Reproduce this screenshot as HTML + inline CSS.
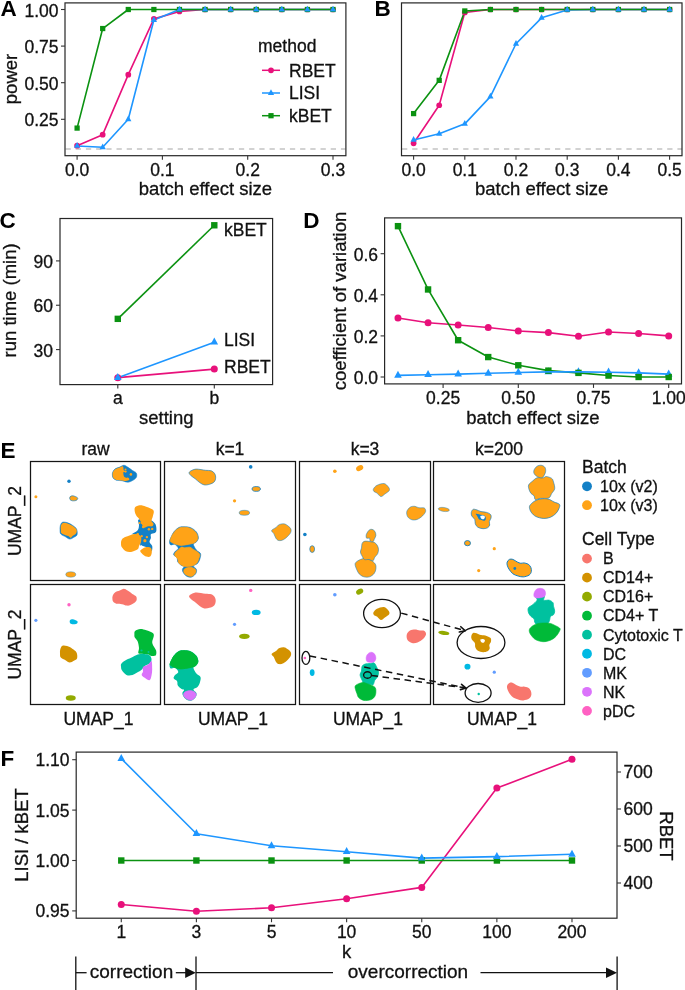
<!DOCTYPE html>
<html><head><meta charset="utf-8"><style>
html,body{margin:0;padding:0;background:#fff;}
svg{display:block;will-change:transform;}
text{font-family:"Liberation Sans", sans-serif;}
</style></head><body>
<svg width="685" height="990" viewBox="0 0 685 990">
<rect width="685" height="990" fill="#fff"/>
<line x1="65.5" y1="149" x2="345.5" y2="149" stroke="#C4C4C4" stroke-width="1.7" stroke-dasharray="5.3 4.9"/>
<polyline points="77.1,145.65 102.69,134.67 128.28,74.65 153.87,18.87 179.46,11.4 205.05,9.5 230.64,9.5 256.23,9.5 281.82,9.5 307.41,9.5 333,9.5" fill="none" stroke="#E8117B" stroke-width="1.6" stroke-linejoin="round"/>
<polyline points="77.1,145.94 102.69,147.26 128.28,119.3 153.87,20.04 179.46,9.5 205.05,9.5 230.64,9.5 256.23,9.5 281.82,9.5 307.41,9.5 333,9.5" fill="none" stroke="#1E96FF" stroke-width="1.6" stroke-linejoin="round"/>
<polyline points="77.1,128.08 102.69,28.53 128.28,9.5 153.87,9.5 179.46,9.5 205.05,9.5 230.64,9.5 256.23,9.5 281.82,9.5 307.41,9.5 333,9.5" fill="none" stroke="#0B9211" stroke-width="1.6" stroke-linejoin="round"/>
<circle cx="77.1" cy="145.65" r="2.87" fill="#E8117B"/>
<circle cx="102.69" cy="134.67" r="2.87" fill="#E8117B"/>
<circle cx="128.28" cy="74.65" r="2.87" fill="#E8117B"/>
<circle cx="153.87" cy="18.87" r="2.87" fill="#E8117B"/>
<circle cx="179.46" cy="11.4" r="2.87" fill="#E8117B"/>
<circle cx="205.05" cy="9.5" r="2.87" fill="#E8117B"/>
<circle cx="230.64" cy="9.5" r="2.87" fill="#E8117B"/>
<circle cx="256.23" cy="9.5" r="2.87" fill="#E8117B"/>
<circle cx="281.82" cy="9.5" r="2.87" fill="#E8117B"/>
<circle cx="307.41" cy="9.5" r="2.87" fill="#E8117B"/>
<circle cx="333" cy="9.5" r="2.87" fill="#E8117B"/>
<rect x="74.48" y="125.46" width="5.25" height="5.25" fill="#0B9211"/>
<rect x="100.07" y="25.91" width="5.25" height="5.25" fill="#0B9211"/>
<rect x="125.66" y="6.88" width="5.25" height="5.25" fill="#0B9211"/>
<rect x="151.25" y="6.88" width="5.25" height="5.25" fill="#0B9211"/>
<rect x="176.84" y="6.88" width="5.25" height="5.25" fill="#0B9211"/>
<rect x="202.43" y="6.88" width="5.25" height="5.25" fill="#0B9211"/>
<rect x="228.02" y="6.88" width="5.25" height="5.25" fill="#0B9211"/>
<rect x="253.61" y="6.88" width="5.25" height="5.25" fill="#0B9211"/>
<rect x="279.2" y="6.88" width="5.25" height="5.25" fill="#0B9211"/>
<rect x="304.79" y="6.88" width="5.25" height="5.25" fill="#0B9211"/>
<rect x="330.38" y="6.88" width="5.25" height="5.25" fill="#0B9211"/>
<polygon points="77.1,142.12 80.22,147.86 73.98,147.86" fill="#1E96FF"/>
<polygon points="102.69,143.43 105.81,149.17 99.57,149.17" fill="#1E96FF"/>
<polygon points="128.28,115.47 131.4,121.21 125.16,121.21" fill="#1E96FF"/>
<polygon points="153.87,16.21 156.99,21.95 150.75,21.95" fill="#1E96FF"/>
<polygon points="179.46,5.67 182.58,11.41 176.34,11.41" fill="#1E96FF"/>
<polygon points="205.05,5.67 208.17,11.41 201.93,11.41" fill="#1E96FF"/>
<polygon points="230.64,5.67 233.76,11.41 227.52,11.41" fill="#1E96FF"/>
<polygon points="256.23,5.67 259.35,11.41 253.11,11.41" fill="#1E96FF"/>
<polygon points="281.82,5.67 284.94,11.41 278.7,11.41" fill="#1E96FF"/>
<polygon points="307.41,5.67 310.53,11.41 304.29,11.41" fill="#1E96FF"/>
<polygon points="333,5.67 336.12,11.41 329.88,11.41" fill="#1E96FF"/>
<rect x="65" y="2.9" width="280.9" height="152.8" fill="none" stroke="#262626" stroke-width="1.2"/>
<line x1="61" y1="119.3" x2="65" y2="119.3" stroke="#333333" stroke-width="1.1" />
<text x="58.5" y="126.3" font-size="17.5" text-anchor="end" fill="#111111" stroke="#111111" stroke-width="0.3" font-weight="normal" >0.25</text>
<line x1="61" y1="82.7" x2="65" y2="82.7" stroke="#333333" stroke-width="1.1" />
<text x="58.5" y="89.7" font-size="17.5" text-anchor="end" fill="#111111" stroke="#111111" stroke-width="0.3" font-weight="normal" >0.50</text>
<line x1="61" y1="46.1" x2="65" y2="46.1" stroke="#333333" stroke-width="1.1" />
<text x="58.5" y="53.1" font-size="17.5" text-anchor="end" fill="#111111" stroke="#111111" stroke-width="0.3" font-weight="normal" >0.75</text>
<line x1="61" y1="9.5" x2="65" y2="9.5" stroke="#333333" stroke-width="1.1" />
<text x="58.5" y="16.5" font-size="17.5" text-anchor="end" fill="#111111" stroke="#111111" stroke-width="0.3" font-weight="normal" >1.00</text>
<line x1="77.1" y1="155.7" x2="77.1" y2="159.7" stroke="#333333" stroke-width="1.1" />
<text x="77.1" y="176" font-size="17.5" text-anchor="middle" fill="#111111" stroke="#111111" stroke-width="0.3" font-weight="normal" >0.0</text>
<line x1="162.4" y1="155.7" x2="162.4" y2="159.7" stroke="#333333" stroke-width="1.1" />
<text x="162.4" y="176" font-size="17.5" text-anchor="middle" fill="#111111" stroke="#111111" stroke-width="0.3" font-weight="normal" >0.1</text>
<line x1="247.7" y1="155.7" x2="247.7" y2="159.7" stroke="#333333" stroke-width="1.1" />
<text x="247.7" y="176" font-size="17.5" text-anchor="middle" fill="#111111" stroke="#111111" stroke-width="0.3" font-weight="normal" >0.2</text>
<line x1="333" y1="155.7" x2="333" y2="159.7" stroke="#333333" stroke-width="1.1" />
<text x="333" y="176" font-size="17.5" text-anchor="middle" fill="#111111" stroke="#111111" stroke-width="0.3" font-weight="normal" >0.3</text>
<text x="205.5" y="195" font-size="18.5" text-anchor="middle" fill="#111111" stroke="#111111" stroke-width="0.3" font-weight="normal" >batch effect size</text>
<text x="17" y="79" font-size="18.5" text-anchor="middle" fill="#111111" stroke="#111111" stroke-width="0.3" font-weight="normal" transform="rotate(-90 17 79)" >power</text>
<text transform="translate(0.5,15.8) scale(1.0,1)" font-size="22.5" font-weight="bold" fill="#000">A</text>
<text x="258" y="51.6" font-size="17.5" text-anchor="start" fill="#111111" stroke="#111111" stroke-width="0.3" font-weight="normal" >method</text>
<line x1="262" y1="70.3" x2="280" y2="70.3" stroke="#E8117B" stroke-width="1.5" />
<circle cx="271" cy="70.3" r="2.87" fill="#E8117B"/>
<text x="289" y="76.5" font-size="17.5" text-anchor="start" fill="#111111" stroke="#111111" stroke-width="0.3" font-weight="normal" >RBET</text>
<line x1="262" y1="93" x2="280" y2="93" stroke="#1E96FF" stroke-width="1.5" />
<polygon points="271,89.17 274.12,94.91 267.88,94.91" fill="#1E96FF"/>
<text x="289" y="99.2" font-size="17.5" text-anchor="start" fill="#111111" stroke="#111111" stroke-width="0.3" font-weight="normal" >LISI</text>
<line x1="262" y1="115.7" x2="280" y2="115.7" stroke="#0B9211" stroke-width="1.5" />
<rect x="268.38" y="113.08" width="5.25" height="5.25" fill="#0B9211"/>
<text x="289" y="121.9" font-size="17.5" text-anchor="start" fill="#111111" stroke="#111111" stroke-width="0.3" font-weight="normal" >kBET</text>
<line x1="402" y1="149" x2="682" y2="149" stroke="#C4C4C4" stroke-width="1.7" stroke-dasharray="5.3 4.9"/>
<polyline points="413.6,143.31 439.2,105.25 464.8,12.43 490.4,9.5 516,9.5 541.6,9.5 567.2,9.5 592.8,9.5 618.4,9.5 644,9.5 669.6,9.5" fill="none" stroke="#E8117B" stroke-width="1.6" stroke-linejoin="round"/>
<polyline points="413.6,139.94 439.2,133.79 464.8,123.84 490.4,96.61 516,43.76 541.6,17.84 567.2,9.94 592.8,9.5 618.4,9.5 644,9.5 669.6,9.5" fill="none" stroke="#1E96FF" stroke-width="1.6" stroke-linejoin="round"/>
<polyline points="413.6,113.59 439.2,80.36 464.8,10.96 490.4,9.5 516,9.5 541.6,9.5 567.2,9.5 592.8,9.5 618.4,9.5 644,9.5 669.6,9.5" fill="none" stroke="#0B9211" stroke-width="1.6" stroke-linejoin="round"/>
<circle cx="413.6" cy="143.31" r="2.87" fill="#E8117B"/>
<circle cx="439.2" cy="105.25" r="2.87" fill="#E8117B"/>
<circle cx="464.8" cy="12.43" r="2.87" fill="#E8117B"/>
<circle cx="490.4" cy="9.5" r="2.87" fill="#E8117B"/>
<circle cx="516" cy="9.5" r="2.87" fill="#E8117B"/>
<circle cx="541.6" cy="9.5" r="2.87" fill="#E8117B"/>
<circle cx="567.2" cy="9.5" r="2.87" fill="#E8117B"/>
<circle cx="592.8" cy="9.5" r="2.87" fill="#E8117B"/>
<circle cx="618.4" cy="9.5" r="2.87" fill="#E8117B"/>
<circle cx="644" cy="9.5" r="2.87" fill="#E8117B"/>
<circle cx="669.6" cy="9.5" r="2.87" fill="#E8117B"/>
<rect x="410.98" y="110.97" width="5.25" height="5.25" fill="#0B9211"/>
<rect x="436.58" y="77.73" width="5.25" height="5.25" fill="#0B9211"/>
<rect x="462.18" y="8.34" width="5.25" height="5.25" fill="#0B9211"/>
<rect x="487.78" y="6.88" width="5.25" height="5.25" fill="#0B9211"/>
<rect x="513.38" y="6.88" width="5.25" height="5.25" fill="#0B9211"/>
<rect x="538.98" y="6.88" width="5.25" height="5.25" fill="#0B9211"/>
<rect x="564.58" y="6.88" width="5.25" height="5.25" fill="#0B9211"/>
<rect x="590.18" y="6.88" width="5.25" height="5.25" fill="#0B9211"/>
<rect x="615.78" y="6.88" width="5.25" height="5.25" fill="#0B9211"/>
<rect x="641.38" y="6.88" width="5.25" height="5.25" fill="#0B9211"/>
<rect x="666.98" y="6.88" width="5.25" height="5.25" fill="#0B9211"/>
<polygon points="413.6,136.11 416.72,141.85 410.48,141.85" fill="#1E96FF"/>
<polygon points="439.2,129.96 442.32,135.7 436.08,135.7" fill="#1E96FF"/>
<polygon points="464.8,120.01 467.92,125.75 461.68,125.75" fill="#1E96FF"/>
<polygon points="490.4,92.78 493.52,98.52 487.28,98.52" fill="#1E96FF"/>
<polygon points="516,39.93 519.12,45.67 512.88,45.67" fill="#1E96FF"/>
<polygon points="541.6,14.02 544.72,19.76 538.48,19.76" fill="#1E96FF"/>
<polygon points="567.2,6.11 570.32,11.85 564.08,11.85" fill="#1E96FF"/>
<polygon points="592.8,5.67 595.92,11.41 589.68,11.41" fill="#1E96FF"/>
<polygon points="618.4,5.67 621.52,11.41 615.28,11.41" fill="#1E96FF"/>
<polygon points="644,5.67 647.12,11.41 640.88,11.41" fill="#1E96FF"/>
<polygon points="669.6,5.67 672.72,11.41 666.48,11.41" fill="#1E96FF"/>
<rect x="401.5" y="2.9" width="280.5" height="152.8" fill="none" stroke="#262626" stroke-width="1.2"/>
<line x1="413.6" y1="155.7" x2="413.6" y2="159.7" stroke="#333333" stroke-width="1.1" />
<text x="413.6" y="176" font-size="17.5" text-anchor="middle" fill="#111111" stroke="#111111" stroke-width="0.3" font-weight="normal" >0.0</text>
<line x1="464.8" y1="155.7" x2="464.8" y2="159.7" stroke="#333333" stroke-width="1.1" />
<text x="464.8" y="176" font-size="17.5" text-anchor="middle" fill="#111111" stroke="#111111" stroke-width="0.3" font-weight="normal" >0.1</text>
<line x1="516" y1="155.7" x2="516" y2="159.7" stroke="#333333" stroke-width="1.1" />
<text x="516" y="176" font-size="17.5" text-anchor="middle" fill="#111111" stroke="#111111" stroke-width="0.3" font-weight="normal" >0.2</text>
<line x1="567.2" y1="155.7" x2="567.2" y2="159.7" stroke="#333333" stroke-width="1.1" />
<text x="567.2" y="176" font-size="17.5" text-anchor="middle" fill="#111111" stroke="#111111" stroke-width="0.3" font-weight="normal" >0.3</text>
<line x1="618.4" y1="155.7" x2="618.4" y2="159.7" stroke="#333333" stroke-width="1.1" />
<text x="618.4" y="176" font-size="17.5" text-anchor="middle" fill="#111111" stroke="#111111" stroke-width="0.3" font-weight="normal" >0.4</text>
<line x1="669.6" y1="155.7" x2="669.6" y2="159.7" stroke="#333333" stroke-width="1.1" />
<text x="669.6" y="176" font-size="17.5" text-anchor="middle" fill="#111111" stroke="#111111" stroke-width="0.3" font-weight="normal" >0.5</text>
<text x="541.7" y="195" font-size="18.5" text-anchor="middle" fill="#111111" stroke="#111111" stroke-width="0.3" font-weight="normal" >batch effect size</text>
<text transform="translate(374.5,15.8) scale(1.0,1)" font-size="22.5" font-weight="bold" fill="#000">B</text>
<polyline points="117.8,377.66 214.3,369.09" fill="none" stroke="#E8117B" stroke-width="1.6" stroke-linejoin="round"/>
<polyline points="117.8,377.66 214.3,342.19" fill="none" stroke="#1E96FF" stroke-width="1.6" stroke-linejoin="round"/>
<polyline points="117.8,318.84 214.3,225.28" fill="none" stroke="#0B9211" stroke-width="1.6" stroke-linejoin="round"/>
<circle cx="117.8" cy="377.66" r="3.5" fill="#E8117B"/>
<circle cx="214.3" cy="369.09" r="3.5" fill="#E8117B"/>
<rect x="114.6" y="315.64" width="6.4" height="6.4" fill="#0B9211"/>
<rect x="211.1" y="222.08" width="6.4" height="6.4" fill="#0B9211"/>
<polygon points="117.8,372.99 121.6,379.99 114,379.99" fill="#1E96FF"/>
<polygon points="214.3,337.52 218.1,344.52 210.5,344.52" fill="#1E96FF"/>
<rect x="60" y="218.5" width="212.6" height="166.1" fill="none" stroke="#262626" stroke-width="1.2"/>
<line x1="56" y1="349.58" x2="60" y2="349.58" stroke="#333333" stroke-width="1.1" />
<text x="53" y="356.58" font-size="17.5" text-anchor="end" fill="#111111" stroke="#111111" stroke-width="0.3" font-weight="normal" >30</text>
<line x1="56" y1="305.24" x2="60" y2="305.24" stroke="#333333" stroke-width="1.1" />
<text x="53" y="312.24" font-size="17.5" text-anchor="end" fill="#111111" stroke="#111111" stroke-width="0.3" font-weight="normal" >60</text>
<line x1="56" y1="260.9" x2="60" y2="260.9" stroke="#333333" stroke-width="1.1" />
<text x="53" y="267.9" font-size="17.5" text-anchor="end" fill="#111111" stroke="#111111" stroke-width="0.3" font-weight="normal" >90</text>
<line x1="117.8" y1="384.6" x2="117.8" y2="388.6" stroke="#333333" stroke-width="1.1" />
<text x="117.8" y="404" font-size="17.5" text-anchor="middle" fill="#111111" stroke="#111111" stroke-width="0.3" font-weight="normal" >a</text>
<line x1="214.3" y1="384.6" x2="214.3" y2="388.6" stroke="#333333" stroke-width="1.1" />
<text x="214.3" y="404" font-size="17.5" text-anchor="middle" fill="#111111" stroke="#111111" stroke-width="0.3" font-weight="normal" >b</text>
<text x="166.3" y="423.5" font-size="18.5" text-anchor="middle" fill="#111111" stroke="#111111" stroke-width="0.3" font-weight="normal" >setting</text>
<text x="16.5" y="300.4" font-size="18.5" text-anchor="middle" fill="#111111" stroke="#111111" stroke-width="0.3" font-weight="normal" transform="rotate(-90 16.5 300.4)" >run time (min)</text>
<text transform="translate(-0.4,227.6) scale(1.0,1)" font-size="22.5" font-weight="bold" fill="#000">C</text>
<text x="224" y="236.2" font-size="17.5" text-anchor="start" fill="#111111" stroke="#111111" stroke-width="0.3" font-weight="normal" >kBET</text>
<text x="224" y="345.6" font-size="17.5" text-anchor="start" fill="#111111" stroke="#111111" stroke-width="0.3" font-weight="normal" >LISI</text>
<text x="224" y="372.6" font-size="17.5" text-anchor="start" fill="#111111" stroke="#111111" stroke-width="0.3" font-weight="normal" >RBET</text>
<circle cx="397.98" cy="318.02" r="3.5" fill="#E8117B"/>
<circle cx="428.06" cy="322.75" r="3.5" fill="#E8117B"/>
<circle cx="458.14" cy="325.01" r="3.5" fill="#E8117B"/>
<circle cx="488.22" cy="327.47" r="3.5" fill="#E8117B"/>
<circle cx="518.3" cy="330.97" r="3.5" fill="#E8117B"/>
<circle cx="548.38" cy="332.61" r="3.5" fill="#E8117B"/>
<circle cx="578.46" cy="336.31" r="3.5" fill="#E8117B"/>
<circle cx="608.54" cy="332" r="3.5" fill="#E8117B"/>
<circle cx="638.62" cy="333.43" r="3.5" fill="#E8117B"/>
<circle cx="668.7" cy="335.9" r="3.5" fill="#E8117B"/>
<polygon points="397.98,370.69 401.78,377.69 394.18,377.69" fill="#1E96FF"/>
<polygon points="428.06,370.07 431.86,377.07 424.26,377.07" fill="#1E96FF"/>
<polygon points="458.14,369.45 461.94,376.45 454.34,376.45" fill="#1E96FF"/>
<polygon points="488.22,368.63 492.02,375.63 484.42,375.63" fill="#1E96FF"/>
<polygon points="518.3,367.81 522.1,374.81 514.5,374.81" fill="#1E96FF"/>
<polygon points="548.38,367.19 552.18,374.19 544.58,374.19" fill="#1E96FF"/>
<polygon points="578.46,367.19 582.26,374.19 574.66,374.19" fill="#1E96FF"/>
<polygon points="608.54,367.6 612.34,374.6 604.74,374.6" fill="#1E96FF"/>
<polygon points="638.62,368.22 642.42,375.22 634.82,375.22" fill="#1E96FF"/>
<polygon points="668.7,369.45 672.5,376.45 664.9,376.45" fill="#1E96FF"/>
<rect x="394.78" y="222.96" width="6.4" height="6.4" fill="#0B9211"/>
<rect x="424.86" y="286.26" width="6.4" height="6.4" fill="#0B9211"/>
<rect x="454.94" y="337.02" width="6.4" height="6.4" fill="#0B9211"/>
<rect x="485.02" y="353.87" width="6.4" height="6.4" fill="#0B9211"/>
<rect x="515.1" y="362.09" width="6.4" height="6.4" fill="#0B9211"/>
<rect x="545.18" y="367.43" width="6.4" height="6.4" fill="#0B9211"/>
<rect x="575.26" y="369.69" width="6.4" height="6.4" fill="#0B9211"/>
<rect x="605.34" y="372.36" width="6.4" height="6.4" fill="#0B9211"/>
<rect x="635.42" y="373.8" width="6.4" height="6.4" fill="#0B9211"/>
<rect x="665.5" y="373.8" width="6.4" height="6.4" fill="#0B9211"/>
<polyline points="397.98,318.02 428.06,322.75 458.14,325.01 488.22,327.47 518.3,330.97 548.38,332.61 578.46,336.31 608.54,332 638.62,333.43 668.7,335.9" fill="none" stroke="#E8117B" stroke-width="1.6" stroke-linejoin="round"/>
<polyline points="397.98,226.16 428.06,289.46 458.14,340.22 488.22,357.07 518.3,365.29 548.38,370.63 578.46,372.89 608.54,375.56 638.62,377 668.7,377" fill="none" stroke="#0B9211" stroke-width="1.6" stroke-linejoin="round"/>
<polyline points="397.98,375.36 428.06,374.74 458.14,374.12 488.22,373.3 518.3,372.48 548.38,371.86 578.46,371.86 608.54,372.27 638.62,372.89 668.7,374.12" fill="none" stroke="#1E96FF" stroke-width="1.6" stroke-linejoin="round"/>
<rect x="384.6" y="217.9" width="296.9" height="166" fill="none" stroke="#262626" stroke-width="1.2"/>
<line x1="380.6" y1="377" x2="384.6" y2="377" stroke="#333333" stroke-width="1.1" />
<text x="378" y="384" font-size="17.5" text-anchor="end" fill="#111111" stroke="#111111" stroke-width="0.3" font-weight="normal" >0.0</text>
<line x1="380.6" y1="335.9" x2="384.6" y2="335.9" stroke="#333333" stroke-width="1.1" />
<text x="378" y="342.9" font-size="17.5" text-anchor="end" fill="#111111" stroke="#111111" stroke-width="0.3" font-weight="normal" >0.2</text>
<line x1="380.6" y1="294.8" x2="384.6" y2="294.8" stroke="#333333" stroke-width="1.1" />
<text x="378" y="301.8" font-size="17.5" text-anchor="end" fill="#111111" stroke="#111111" stroke-width="0.3" font-weight="normal" >0.4</text>
<line x1="380.6" y1="253.7" x2="384.6" y2="253.7" stroke="#333333" stroke-width="1.1" />
<text x="378" y="260.7" font-size="17.5" text-anchor="end" fill="#111111" stroke="#111111" stroke-width="0.3" font-weight="normal" >0.6</text>
<line x1="443.1" y1="383.9" x2="443.1" y2="387.9" stroke="#333333" stroke-width="1.1" />
<text x="443.1" y="403.5" font-size="17.5" text-anchor="middle" fill="#111111" stroke="#111111" stroke-width="0.3" font-weight="normal" >0.25</text>
<line x1="518.3" y1="383.9" x2="518.3" y2="387.9" stroke="#333333" stroke-width="1.1" />
<text x="518.3" y="403.5" font-size="17.5" text-anchor="middle" fill="#111111" stroke="#111111" stroke-width="0.3" font-weight="normal" >0.50</text>
<line x1="593.5" y1="383.9" x2="593.5" y2="387.9" stroke="#333333" stroke-width="1.1" />
<text x="593.5" y="403.5" font-size="17.5" text-anchor="middle" fill="#111111" stroke="#111111" stroke-width="0.3" font-weight="normal" >0.75</text>
<line x1="668.7" y1="383.9" x2="668.7" y2="387.9" stroke="#333333" stroke-width="1.1" />
<text x="668.7" y="403.5" font-size="17.5" text-anchor="middle" fill="#111111" stroke="#111111" stroke-width="0.3" font-weight="normal" >1.00</text>
<text x="533" y="423.5" font-size="18.5" text-anchor="middle" fill="#111111" stroke="#111111" stroke-width="0.3" font-weight="normal" >batch effect size</text>
<text x="345.5" y="301" font-size="18.5" text-anchor="middle" fill="#111111" stroke="#111111" stroke-width="0.3" font-weight="normal" transform="rotate(-90 345.5 301)" >coefficient of variation</text>
<text transform="translate(303.2,228) scale(1.0,1)" font-size="22.5" font-weight="bold" fill="#000">D</text>
<polyline points="121.27,904.5 196.39,911.2 271.51,907.8 346.63,898.8 421.75,887.4 496.87,788.1 571.99,759.3" fill="none" stroke="#E8117B" stroke-width="1.6" stroke-linejoin="round"/>
<polyline points="121.27,758.6 196.39,833.7 271.51,845.8 346.63,851.7 421.75,858.1 496.87,856.6 571.99,854.3" fill="none" stroke="#1E96FF" stroke-width="1.6" stroke-linejoin="round"/>
<polyline points="121.27,860.5 196.39,860.5 271.51,860.5 346.63,860.5 421.75,860.5 496.87,860.5 571.99,860.5" fill="none" stroke="#0B9211" stroke-width="1.6" stroke-linejoin="round"/>
<circle cx="121.27" cy="904.5" r="3.5" fill="#E8117B"/>
<circle cx="196.39" cy="911.2" r="3.5" fill="#E8117B"/>
<circle cx="271.51" cy="907.8" r="3.5" fill="#E8117B"/>
<circle cx="346.63" cy="898.8" r="3.5" fill="#E8117B"/>
<circle cx="421.75" cy="887.4" r="3.5" fill="#E8117B"/>
<circle cx="496.87" cy="788.1" r="3.5" fill="#E8117B"/>
<circle cx="571.99" cy="759.3" r="3.5" fill="#E8117B"/>
<rect x="118.07" y="857.3" width="6.4" height="6.4" fill="#0B9211"/>
<rect x="193.19" y="857.3" width="6.4" height="6.4" fill="#0B9211"/>
<rect x="268.31" y="857.3" width="6.4" height="6.4" fill="#0B9211"/>
<rect x="343.43" y="857.3" width="6.4" height="6.4" fill="#0B9211"/>
<rect x="418.55" y="857.3" width="6.4" height="6.4" fill="#0B9211"/>
<rect x="493.67" y="857.3" width="6.4" height="6.4" fill="#0B9211"/>
<rect x="568.79" y="857.3" width="6.4" height="6.4" fill="#0B9211"/>
<polygon points="121.27,753.93 125.07,760.93 117.47,760.93" fill="#1E96FF"/>
<polygon points="196.39,829.03 200.19,836.03 192.59,836.03" fill="#1E96FF"/>
<polygon points="271.51,841.13 275.31,848.13 267.71,848.13" fill="#1E96FF"/>
<polygon points="346.63,847.03 350.43,854.03 342.83,854.03" fill="#1E96FF"/>
<polygon points="421.75,853.43 425.55,860.43 417.95,860.43" fill="#1E96FF"/>
<polygon points="496.87,851.93 500.67,858.93 493.07,858.93" fill="#1E96FF"/>
<polygon points="571.99,849.63 575.79,856.63 568.19,856.63" fill="#1E96FF"/>
<rect x="76.2" y="752.1" width="540.8" height="166.1" fill="none" stroke="#262626" stroke-width="1.2"/>
<line x1="72.2" y1="910.9" x2="76.2" y2="910.9" stroke="#333333" stroke-width="1.1" />
<text x="69.5" y="917.4" font-size="17.5" text-anchor="end" fill="#111111" stroke="#111111" stroke-width="0.3" font-weight="normal" >0.95</text>
<line x1="72.2" y1="860.5" x2="76.2" y2="860.5" stroke="#333333" stroke-width="1.1" />
<text x="69.5" y="867" font-size="17.5" text-anchor="end" fill="#111111" stroke="#111111" stroke-width="0.3" font-weight="normal" >1.00</text>
<line x1="72.2" y1="810.1" x2="76.2" y2="810.1" stroke="#333333" stroke-width="1.1" />
<text x="69.5" y="816.6" font-size="17.5" text-anchor="end" fill="#111111" stroke="#111111" stroke-width="0.3" font-weight="normal" >1.05</text>
<line x1="72.2" y1="759.7" x2="76.2" y2="759.7" stroke="#333333" stroke-width="1.1" />
<text x="69.5" y="766.2" font-size="17.5" text-anchor="end" fill="#111111" stroke="#111111" stroke-width="0.3" font-weight="normal" >1.10</text>
<line x1="617" y1="883" x2="621" y2="883" stroke="#333333" stroke-width="1.1" />
<text x="623.5" y="889.3" font-size="17.5" text-anchor="start" fill="#111111" stroke="#111111" stroke-width="0.3" font-weight="normal" >400</text>
<line x1="617" y1="846" x2="621" y2="846" stroke="#333333" stroke-width="1.1" />
<text x="623.5" y="852.3" font-size="17.5" text-anchor="start" fill="#111111" stroke="#111111" stroke-width="0.3" font-weight="normal" >500</text>
<line x1="617" y1="809" x2="621" y2="809" stroke="#333333" stroke-width="1.1" />
<text x="623.5" y="815.3" font-size="17.5" text-anchor="start" fill="#111111" stroke="#111111" stroke-width="0.3" font-weight="normal" >600</text>
<line x1="617" y1="772" x2="621" y2="772" stroke="#333333" stroke-width="1.1" />
<text x="623.5" y="778.3" font-size="17.5" text-anchor="start" fill="#111111" stroke="#111111" stroke-width="0.3" font-weight="normal" >700</text>
<line x1="121.27" y1="918.2" x2="121.27" y2="922.2" stroke="#333333" stroke-width="1.1" />
<text x="121.27" y="938.1" font-size="17.5" text-anchor="middle" fill="#111111" stroke="#111111" stroke-width="0.3" font-weight="normal" >1</text>
<line x1="196.39" y1="918.2" x2="196.39" y2="922.2" stroke="#333333" stroke-width="1.1" />
<text x="196.39" y="938.1" font-size="17.5" text-anchor="middle" fill="#111111" stroke="#111111" stroke-width="0.3" font-weight="normal" >3</text>
<line x1="271.51" y1="918.2" x2="271.51" y2="922.2" stroke="#333333" stroke-width="1.1" />
<text x="271.51" y="938.1" font-size="17.5" text-anchor="middle" fill="#111111" stroke="#111111" stroke-width="0.3" font-weight="normal" >5</text>
<line x1="346.63" y1="918.2" x2="346.63" y2="922.2" stroke="#333333" stroke-width="1.1" />
<text x="346.63" y="938.1" font-size="17.5" text-anchor="middle" fill="#111111" stroke="#111111" stroke-width="0.3" font-weight="normal" >10</text>
<line x1="421.75" y1="918.2" x2="421.75" y2="922.2" stroke="#333333" stroke-width="1.1" />
<text x="421.75" y="938.1" font-size="17.5" text-anchor="middle" fill="#111111" stroke="#111111" stroke-width="0.3" font-weight="normal" >50</text>
<line x1="496.87" y1="918.2" x2="496.87" y2="922.2" stroke="#333333" stroke-width="1.1" />
<text x="496.87" y="938.1" font-size="17.5" text-anchor="middle" fill="#111111" stroke="#111111" stroke-width="0.3" font-weight="normal" >100</text>
<line x1="571.99" y1="918.2" x2="571.99" y2="922.2" stroke="#333333" stroke-width="1.1" />
<text x="571.99" y="938.1" font-size="17.5" text-anchor="middle" fill="#111111" stroke="#111111" stroke-width="0.3" font-weight="normal" >200</text>
<text x="346.6" y="957.5" font-size="18.5" text-anchor="middle" fill="#111111" stroke="#111111" stroke-width="0.3" font-weight="normal" >k</text>
<text x="27.5" y="835" font-size="18.5" text-anchor="middle" fill="#111111" stroke="#111111" stroke-width="0.3" font-weight="normal" transform="rotate(-90 27.5 835)" >LISI / kBET</text>
<text x="660" y="836" font-size="18.5" text-anchor="middle" fill="#111111" stroke="#111111" stroke-width="0.3" font-weight="normal" transform="rotate(90 660 836)" >RBET</text>
<text transform="translate(0.4,765.6) scale(1.0,1)" font-size="22.5" font-weight="bold" fill="#000">F</text>
<line x1="75.8" y1="956.5" x2="75.8" y2="990" stroke="#111111" stroke-width="1.3" />
<line x1="196" y1="956.5" x2="196" y2="990" stroke="#111111" stroke-width="1.3" />
<line x1="617.1" y1="956.5" x2="617.1" y2="990" stroke="#111111" stroke-width="1.3" />
<line x1="75.8" y1="972.7" x2="86.6" y2="972.7" stroke="#111111" stroke-width="1.3" />
<line x1="175.8" y1="972.7" x2="186" y2="972.7" stroke="#111111" stroke-width="1.3" />
<polygon points="185.2,967.4 195.8,972.7 185.2,978" fill="#111111"/>
<text x="131.5" y="978" font-size="19" text-anchor="middle" fill="#111111" stroke="#111111" stroke-width="0.3" font-weight="normal" >correction</text>
<line x1="196" y1="972.7" x2="333" y2="972.7" stroke="#111111" stroke-width="1.3" />
<text x="408" y="978" font-size="19" text-anchor="middle" fill="#111111" stroke="#111111" stroke-width="0.3" font-weight="normal" >overcorrection</text>
<line x1="480.5" y1="972.7" x2="607" y2="972.7" stroke="#111111" stroke-width="1.3" />
<polygon points="606,967.4 617,972.7 606,978" fill="#111111"/>
<path d="M112.7,472.3 C113.13,471.28 113.83,469.87 115,469 C116.17,468.13 118.22,467.72 119.7,467.1 C121.18,466.48 122.58,465.3 123.9,465.3 C125.22,465.3 126.2,466.25 127.6,467.1 C129,467.95 130.9,469.47 132.3,470.4 C133.7,471.33 135.27,471.77 136,472.7 C136.73,473.63 136.85,474.98 136.7,476 C136.55,477.02 136.15,477.87 135.1,478.8 C134.05,479.73 131.8,481.05 130.4,481.6 C129,482.15 128.1,482.25 126.7,482.1 C125.3,481.95 123.72,481.02 122,480.7 C120.28,480.38 117.88,480.67 116.4,480.2 C114.92,479.73 113.77,478.75 113.1,477.9 C112.43,477.05 112.47,476.03 112.4,475.1 C112.33,474.17 112.27,473.32 112.7,472.3Z" fill="#1380C6" stroke="#1380C6" stroke-width="0.6" stroke-linejoin="round"/>
<path d="M112.9,472.3 C113.33,471.32 114.07,470.02 115.2,469.2 C116.33,468.38 118.4,467.87 119.7,467.4 C121,466.93 122.3,465.9 123,466.4 C123.7,466.9 123.28,469.65 123.9,470.4 C124.52,471.15 126.38,470.52 126.7,470.9 C127.02,471.28 126.35,472.47 125.8,472.7 C125.25,472.93 123.63,471.58 123.4,472.3 C123.17,473.02 123.47,475.98 124.4,477 C125.33,478.02 128.3,477.87 129,478.4 C129.7,478.93 129.3,479.77 128.6,480.2 C127.9,480.63 125.9,480.95 124.8,481 C123.7,481.05 123.4,480.67 122,480.5 C120.6,480.33 117.85,480.47 116.4,480 C114.95,479.53 113.93,478.52 113.3,477.7 C112.67,476.88 112.67,476 112.6,475.1 C112.53,474.2 112.47,473.28 112.9,472.3Z" fill="#FFA317"/>
<circle cx="130.9" cy="474.4" r="1.3" fill="#FFA317"/>
<circle cx="127.5" cy="478.6" r="1.2" fill="#FFA317"/>
<circle cx="125.5" cy="469.5" r="1" fill="#FFA317"/>
<circle cx="68.99" cy="481.27" r="1.7" fill="#1380C6"/>
<circle cx="35.88" cy="496.84" r="1.5" fill="#FFA317"/>
<path d="M70,496.8 C70.48,496.18 71.72,495.7 72.9,495.8 C74.08,495.9 76.32,496.88 77.1,497.4 C77.88,497.92 77.78,498.38 77.6,498.9 C77.42,499.42 76.88,500.18 76,500.5 C75.12,500.82 73.3,500.97 72.3,500.8 C71.3,500.63 70.38,500.17 70,499.5 C69.62,498.83 69.52,497.42 70,496.8Z" fill="#FFA317" stroke="#1380C6" stroke-width="0.65" stroke-linejoin="round"/>
<path d="M60.3,525.7 C60.7,524.43 61.27,522.82 62.4,522.3 C63.53,521.78 65.45,522.12 67.1,522.6 C68.75,523.08 70.73,524.15 72.3,525.2 C73.87,526.25 75.7,527.32 76.5,528.9 C77.3,530.48 77.53,533.3 77.1,534.7 C76.67,536.1 75.13,536.57 73.9,537.3 C72.67,538.03 71.1,539.18 69.7,539.1 C68.3,539.02 66.98,537.63 65.5,536.8 C64.02,535.97 61.72,535.25 60.8,534.1 C59.88,532.95 60.08,531.3 60,529.9 C59.92,528.5 59.9,526.97 60.3,525.7Z" fill="#1380C6" stroke="#1380C6" stroke-width="0.5" stroke-linejoin="round"/>
<path d="M60.8,526.3 C61.15,525.17 61.77,523.58 62.9,523.1 C64.03,522.62 66.03,522.97 67.6,523.4 C69.17,523.83 70.82,524.7 72.3,525.7 C73.78,526.7 75.88,528.08 76.5,529.4 C77.12,530.72 76.6,532.55 76,533.6 C75.4,534.65 73.77,535 72.9,535.7 C72.03,536.4 71.5,537.72 70.8,537.8 C70.1,537.88 69.58,536.63 68.7,536.2 C67.82,535.77 66.73,535.72 65.5,535.2 C64.27,534.68 62.08,533.98 61.3,533.1 C60.52,532.22 60.88,531.03 60.8,529.9 C60.72,528.77 60.45,527.43 60.8,526.3Z" fill="#FFA317"/>
<path d="M138.4,519.7 C139.5,518.82 143.42,519.58 145.6,519.7 C147.78,519.82 149.85,519.63 151.5,520.4 C153.15,521.17 154.68,522.67 155.5,524.3 C156.32,525.93 156.52,528.77 156.4,530.2 C156.28,531.63 155.72,532.23 154.8,532.9 C153.88,533.57 151.55,533.33 150.9,534.2 C150.25,535.07 151.13,536.8 150.9,538.1 C150.67,539.4 149.28,540.68 149.5,542 C149.72,543.32 151.87,544.47 152.2,546 C152.53,547.53 152.48,550.98 151.5,551.2 C150.52,551.42 147.72,548.17 146.3,547.3 C144.88,546.43 144,546.33 143,546 C142,545.67 140.85,546.18 140.3,545.3 C139.75,544.42 140.68,542.45 139.7,540.7 C138.72,538.95 135.72,535.88 134.4,534.8 C133.08,533.72 131.25,534.97 131.8,534.2 C132.35,533.43 136.5,531.73 137.7,530.2 C138.9,528.67 138.88,526.75 139,525 C139.12,523.25 137.3,520.58 138.4,519.7Z" fill="#1380C6"/>
<path d="M135.1,507.2 C135.92,506.12 138.17,505.52 139.7,505.3 C141.23,505.08 142.22,505.25 144.3,505.9 C146.38,506.55 150.62,508.22 152.2,509.2 C153.78,510.18 153.7,510.6 153.8,511.8 C153.9,513 153.18,514.87 152.8,516.4 C152.42,517.93 151.38,519.78 151.5,521 C151.62,522.22 153.38,522.82 153.5,523.7 C153.62,524.58 153.08,525.87 152.2,526.3 C151.32,526.73 149.52,526.08 148.2,526.3 C146.88,526.52 145.28,527.82 144.3,527.6 C143.32,527.38 143.07,526.32 142.3,525 C141.53,523.68 140.68,521.23 139.7,519.7 C138.72,518.17 137.22,517.12 136.4,515.8 C135.58,514.48 135.02,513.23 134.8,511.8 C134.58,510.37 134.28,508.28 135.1,507.2Z" fill="#FFA317"/>
<path d="M121.9,539.4 C122.72,538.3 124.03,537.67 125.9,536.8 C127.77,535.93 131.13,534.63 133.1,534.2 C135.07,533.77 136.38,533.77 137.7,534.2 C139.02,534.63 140.45,535.5 141,536.8 C141.55,538.1 141.33,540.47 141,542 C140.67,543.53 139.55,544.78 139,546 C138.45,547.22 139.02,548.32 137.7,549.3 C136.38,550.28 133.07,551.58 131.1,551.9 C129.13,552.22 127.43,551.97 125.9,551.2 C124.37,550.43 122.72,548.6 121.9,547.3 C121.08,546 121,544.72 121,543.4 C121,542.08 121.08,540.5 121.9,539.4Z" fill="#FFA317"/>
<path d="M140.3,550.6 C140.85,549.5 143.83,547.73 145.6,547.3 C147.37,546.87 149.87,547.12 150.9,548 C151.93,548.88 151.92,551.18 151.8,552.6 C151.68,554.02 151.12,555.85 150.2,556.5 C149.28,557.15 147.62,556.93 146.3,556.5 C144.98,556.07 143.3,554.88 142.3,553.9 C141.3,552.92 139.75,551.7 140.3,550.6Z" fill="#FFA317"/>
<circle cx="142" cy="522.7" r="1.3" fill="#FFA317"/>
<circle cx="143.3" cy="526.9" r="1.4" fill="#FFA317"/>
<circle cx="148.9" cy="529.2" r="1.2" fill="#FFA317"/>
<circle cx="152.2" cy="528.9" r="1.2" fill="#FFA317"/>
<circle cx="146.9" cy="537.1" r="1.2" fill="#FFA317"/>
<circle cx="141.7" cy="536.1" r="1.2" fill="#FFA317"/>
<circle cx="144.9" cy="540.7" r="1.6" fill="#FFA317"/>
<circle cx="137.7" cy="534.2" r="1.3" fill="#FFA317"/>
<circle cx="139.5" cy="523" r="1" fill="#FFA317"/>
<ellipse cx="70.77" cy="574.49" rx="5" ry="2.7" fill="#FFA317" stroke="#1380C6" stroke-width="0.4"/>
<path d="M189.1,472.6 C189.3,471.73 190.73,470.88 192,470.3 C193.27,469.72 194.47,469.1 196.7,469.1 C198.93,469.1 202.97,470.02 205.4,470.3 C207.83,470.58 209.73,470.22 211.3,470.8 C212.87,471.38 214.07,472.63 214.8,473.8 C215.53,474.97 215.8,476.45 215.7,477.8 C215.6,479.15 215.23,480.82 214.2,481.9 C213.17,482.98 211.15,483.8 209.5,484.3 C207.85,484.8 205.95,485.2 204.3,484.9 C202.65,484.6 201.07,483.48 199.6,482.5 C198.13,481.52 196.97,480.17 195.5,479 C194.03,477.83 191.87,476.57 190.8,475.5 C189.73,474.43 188.9,473.47 189.1,472.6Z" fill="#FFA317" stroke="#1380C6" stroke-width="0.65" stroke-linejoin="round"/>
<circle cx="250.7" cy="466.88" r="1.8" fill="#1380C6"/>
<ellipse cx="256.22" cy="488.96" rx="4.2" ry="2.4" fill="#FFA317" stroke="#1380C6" stroke-width="0.8"/>
<circle cx="234.54" cy="500.78" r="1.6" fill="#FFA317"/>
<ellipse cx="244.39" cy="512.8" rx="5.2" ry="2.5" fill="#FFA317" stroke="#1380C6" stroke-width="0.5"/>
<path d="M271.6,530.5 C271.97,529.47 274.68,528.42 276,527.4 C277.32,526.38 278.05,524.98 279.5,524.4 C280.95,523.82 283.25,523.62 284.7,523.9 C286.15,524.18 287.18,525.28 288.2,526.1 C289.22,526.92 290.37,527.77 290.8,528.8 C291.23,529.83 291.3,531.07 290.8,532.3 C290.3,533.53 289.03,534.97 287.8,536.2 C286.57,537.43 284.87,538.97 283.4,539.7 C281.93,540.43 280.23,540.82 279,540.6 C277.77,540.38 276.87,539.57 276,538.4 C275.13,537.23 274.53,534.92 273.8,533.6 C273.07,532.28 271.23,531.53 271.6,530.5Z" fill="#FFA317" stroke="#1380C6" stroke-width="0.5" stroke-linejoin="round"/>
<path d="M169.5,541.4 C169.6,540.03 170.52,538.37 171.3,536.7 C172.08,535.03 172.85,532.97 174.2,531.4 C175.55,529.83 177.55,528.07 179.4,527.3 C181.25,526.53 183.35,526.7 185.3,526.8 C187.25,526.9 189.25,527.03 191.1,527.9 C192.95,528.77 195.18,530.35 196.4,532 C197.62,533.65 198.4,536.15 198.4,537.8 C198.4,539.45 197.23,540.82 196.4,541.9 C195.57,542.98 193.4,542.93 193.4,544.3 C193.4,545.67 195.22,548.55 196.4,550.1 C197.58,551.65 199.92,552.13 200.5,553.6 C201.08,555.07 200.4,557.25 199.9,558.9 C199.4,560.55 198.58,562.33 197.5,563.5 C196.42,564.67 193.58,564.92 193.4,565.9 C193.22,566.88 196,568.13 196.4,569.4 C196.8,570.67 196.58,572.23 195.8,573.5 C195.02,574.77 193.17,576.52 191.7,577 C190.23,577.48 188.37,577.08 187,576.4 C185.63,575.72 184.27,574.07 183.5,572.9 C182.73,571.73 182.3,570.47 182.4,569.4 C182.5,568.33 184.3,567.18 184.1,566.5 C183.9,565.82 182.27,566.08 181.2,565.3 C180.13,564.52 178.38,563.07 177.7,561.8 C177.02,560.53 177.78,558.87 177.1,557.7 C176.42,556.53 173.9,555.87 173.6,554.8 C173.3,553.73 174.52,552.37 175.3,551.3 C176.08,550.23 178.38,549.57 178.3,548.4 C178.22,547.23 176.07,544.88 174.8,544.3 C173.53,543.72 171.58,545.38 170.7,544.9 C169.82,544.42 169.4,542.77 169.5,541.4Z" fill="#1380C6" stroke="#1380C6" stroke-width="0.6" stroke-linejoin="round"/>
<path d="M170.1,540.8 C170.1,539.73 171.02,537.67 171.8,536.1 C172.58,534.53 173.48,532.78 174.8,531.4 C176.12,530.02 177.95,528.48 179.7,527.8 C181.45,527.12 183.45,527.18 185.3,527.3 C187.15,527.42 189.05,527.67 190.8,528.5 C192.55,529.33 194.63,530.75 195.8,532.3 C196.97,533.85 197.8,536.2 197.8,537.8 C197.8,539.4 196.82,540.92 195.8,541.9 C194.78,542.88 193.45,543.2 191.7,543.7 C189.95,544.2 187.15,544.62 185.3,544.9 C183.45,545.18 182.17,545.5 180.6,545.4 C179.03,545.3 177.37,544.78 175.9,544.3 C174.43,543.82 172.77,543.08 171.8,542.5 C170.83,541.92 170.1,541.87 170.1,540.8Z" fill="#FFA317" stroke="#FFA317" stroke-width="0.7" stroke-linejoin="round"/>
<path d="M175.3,552.4 C175.88,551.52 177.32,550.97 178.3,550.1 C179.28,549.23 180.13,547.58 181.2,547.2 C182.27,546.82 183.25,547.8 184.7,547.8 C186.15,547.8 188.45,546.92 189.9,547.2 C191.35,547.48 192.13,548.72 193.4,549.5 C194.67,550.28 196.42,551.02 197.5,551.9 C198.58,552.78 199.7,553.63 199.9,554.8 C200.1,555.97 199.2,557.53 198.7,558.9 C198.2,560.27 197.97,561.83 196.9,563 C195.83,564.17 194.23,565.32 192.3,565.9 C190.37,566.48 186.87,566.5 185.3,566.5 C183.73,566.5 183.98,566.48 182.9,565.9 C181.82,565.32 179.67,564.17 178.8,563 C177.93,561.83 178.37,560.17 177.7,558.9 C177.03,557.63 175.2,556.48 174.8,555.4 C174.4,554.32 174.72,553.28 175.3,552.4Z" fill="#FFA317" stroke="#FFA317" stroke-width="0.7" stroke-linejoin="round"/>
<path d="M184.1,569.4 C184.68,568.52 186.23,567.9 187.6,567.6 C188.97,567.3 190.93,567.22 192.3,567.6 C193.67,567.98 195.32,568.92 195.8,569.9 C196.28,570.88 195.88,572.42 195.2,573.5 C194.52,574.58 192.97,576.02 191.7,576.4 C190.43,576.78 188.87,576.38 187.6,575.8 C186.33,575.22 184.68,573.97 184.1,572.9 C183.52,571.83 183.52,570.28 184.1,569.4Z" fill="#FFA317" stroke="#FFA317" stroke-width="0.5" stroke-linejoin="round"/>
<circle cx="334.84" cy="471.22" r="1.8" fill="#FFA317"/>
<ellipse cx="359.67" cy="468.07" rx="3.8" ry="2.6" fill="#FFA317" transform="rotate(-30 359.67 468.07)"/>
<path d="M373.5,488.8 C374.02,487.78 375.25,486.18 377,485.3 C378.75,484.42 382.1,483.22 384,483.5 C385.9,483.78 387.52,485.83 388.4,487 C389.28,488.17 389.88,489.33 389.3,490.5 C388.72,491.67 386.3,492.98 384.9,494 C383.5,495.02 382.22,496.75 380.9,496.6 C379.58,496.45 378.17,493.97 377,493.1 C375.83,492.23 374.48,492.12 373.9,491.4 C373.32,490.68 372.98,489.82 373.5,488.8Z" fill="#FFA317" stroke="#1380C6" stroke-width="0.5" stroke-linejoin="round"/>
<path d="M406.8,511.5 C407.23,509.88 408.98,507.97 410.3,507.1 C411.62,506.23 413.25,506.18 414.7,506.3 C416.15,506.42 417.4,507.52 419,507.8 C420.6,508.08 423.2,507.38 424.3,508 C425.4,508.62 425.9,510.18 425.6,511.5 C425.3,512.82 423.88,514.58 422.5,515.9 C421.12,517.22 419.05,518.75 417.3,519.4 C415.55,520.05 413.6,520.23 412,519.8 C410.4,519.37 408.57,518.18 407.7,516.8 C406.83,515.42 406.37,513.12 406.8,511.5Z" fill="#FFA317" stroke="#1380C6" stroke-width="0.5" stroke-linejoin="round"/>
<circle cx="304.88" cy="534.48" r="1.8" fill="#1380C6"/>
<ellipse cx="312.18" cy="549.07" rx="2.4" ry="3.4" fill="#FFA317" stroke="#1380C6" stroke-width="0.7"/>
<path d="M355.8,562.4 C356.67,561.43 358.87,560.17 360.4,559.5 C361.93,558.83 363.28,558.3 365,558.4 C366.72,558.5 368.98,559.15 370.7,560.1 C372.42,561.05 374.43,562.65 375.3,564.1 C376.17,565.55 376.08,567.25 375.9,568.8 C375.72,570.35 375.25,572.07 374.2,573.4 C373.15,574.73 371.33,576.23 369.6,576.8 C367.87,577.37 365.53,577.28 363.8,576.8 C362.07,576.32 360.35,575.05 359.2,573.9 C358.05,572.75 357.57,571.33 356.9,569.9 C356.23,568.47 355.38,566.55 355.2,565.3 C355.02,564.05 354.93,563.37 355.8,562.4Z" fill="#FFA317" stroke="#1380C6" stroke-width="0.55" stroke-linejoin="round"/>
<path d="M362.1,543.4 C362.68,542.25 363.57,541.38 365,541.1 C366.43,540.82 369.17,541.5 370.7,541.7 C372.23,541.9 373.13,541.73 374.2,542.3 C375.27,542.87 376.38,543.95 377.1,545.1 C377.82,546.25 378.42,547.75 378.5,549.2 C378.58,550.65 378.22,552.47 377.6,553.8 C376.98,555.13 375.57,556.05 374.8,557.2 C374.03,558.35 373.97,560.32 373,560.7 C372.03,561.08 370.43,559.7 369,559.5 C367.57,559.3 365.55,560.07 364.4,559.5 C363.25,558.93 362.77,557.33 362.1,556.1 C361.43,554.87 360.5,553.45 360.4,552.1 C360.3,550.75 361.22,549.45 361.5,548 C361.78,546.55 361.52,544.55 362.1,543.4Z" fill="#FFA317" stroke="#1380C6" stroke-width="0.55" stroke-linejoin="round"/>
<path d="M366.7,533.6 C367.18,532.65 368.13,530.92 369,530.2 C369.87,529.48 370.93,529.12 371.9,529.3 C372.87,529.48 374.13,530.28 374.8,531.3 C375.47,532.32 376,534.05 375.9,535.4 C375.8,536.75 374.68,538.35 374.2,539.4 C373.72,540.45 373.68,541.42 373,541.7 C372.32,541.98 370.67,541.68 370.1,541.1 C369.53,540.52 370.17,538.68 369.6,538.2 C369.03,537.72 367.28,538.58 366.7,538.2 C366.12,537.82 366.1,536.67 366.1,535.9 C366.1,535.13 366.22,534.55 366.7,533.6Z" fill="#FFA317" stroke="#1380C6" stroke-width="0.55" stroke-linejoin="round"/>
<ellipse cx="443.82" cy="509.45" rx="5.6" ry="2" fill="#FFA317" stroke="#1380C6" stroke-width="0.4" transform="rotate(8 443.82 509.45)"/>
<path d="M471.3,512.4 C471.52,511.3 472.22,509.83 473.1,509.4 C473.98,508.97 475.28,509.43 476.6,509.8 C477.92,510.17 479.33,511.17 481,511.6 C482.67,512.03 485,511.9 486.6,512.4 C488.2,512.9 489.87,513.65 490.6,514.6 C491.33,515.55 491.22,516.93 491,518.1 C490.78,519.27 489.52,520.43 489.3,521.6 C489.08,522.77 490,524.07 489.7,525.1 C489.4,526.13 488.6,527.2 487.5,527.8 C486.4,528.4 484.7,528.78 483.1,528.7 C481.5,528.62 479.2,528.12 477.9,527.3 C476.6,526.48 475.82,525.1 475.3,523.8 C474.78,522.5 475.38,520.8 474.8,519.5 C474.22,518.2 472.38,517.18 471.8,516 C471.22,514.82 471.08,513.5 471.3,512.4Z" fill="#FFA317" stroke="#1380C6" stroke-width="0.7" stroke-linejoin="round"/>
<path d="M475.7,513.8 C475.93,513.43 477.63,513.98 478.8,514.2 C479.97,514.42 481.62,514.73 482.7,515.1 C483.78,515.47 484.78,515.75 485.3,516.4 C485.82,517.05 485.93,518.27 485.8,519 C485.67,519.73 485.23,520.65 484.5,520.8 C483.77,520.95 482.28,520.12 481.4,519.9 C480.52,519.68 479.87,520.08 479.2,519.5 C478.53,518.92 477.98,517.35 477.4,516.4 C476.82,515.45 475.47,514.17 475.7,513.8Z" fill="#1380C6"/>
<path d="M480.5,516 C480.9,515.63 482.37,515.37 483.1,515.5 C483.83,515.63 484.75,516.22 484.9,516.8 C485.05,517.38 484.52,518.63 484,519 C483.48,519.37 482.35,519.22 481.8,519 C481.25,518.78 480.92,518.2 480.7,517.7 C480.48,517.2 480.1,516.37 480.5,516Z" fill="#ffffff"/>
<ellipse cx="467.47" cy="543.15" rx="3" ry="2.6" fill="#FFA317" stroke="#1380C6" stroke-width="0.9"/>
<circle cx="494.28" cy="548.67" r="1.6" fill="#FFA317"/>
<circle cx="478.71" cy="570.55" r="1.6" fill="#FFA317"/>
<path d="M507.2,562 C507.57,561.05 508.45,559.83 509.4,559.4 C510.35,558.97 511.58,558.97 512.9,559.4 C514.22,559.83 515.98,561.35 517.3,562 C518.62,562.65 519.72,563.15 520.8,563.3 C521.88,563.45 522.57,562.75 523.8,562.9 C525.03,563.05 527.03,563.47 528.2,564.2 C529.37,564.93 530.28,566.07 530.8,567.3 C531.32,568.53 531.58,570.3 531.3,571.6 C531.02,572.9 530.42,574.22 529.1,575.1 C527.78,575.98 525.23,576.75 523.4,576.9 C521.57,577.05 519.85,576.52 518.1,576 C516.35,575.48 514.43,574.97 512.9,573.8 C511.37,572.63 509.85,570.45 508.9,569 C507.95,567.55 507.48,566.27 507.2,565.1 C506.92,563.93 506.83,562.95 507.2,562Z" fill="#FFA317" stroke="#1380C6" stroke-width="1.0" stroke-linejoin="round"/>
<circle cx="514.8" cy="568.5" r="1.4" fill="#1380C6"/>
<path d="M529.8,505.6 C530.52,504.28 532.37,502.5 534.1,501.4 C535.83,500.3 537.88,499.4 540.2,499 C542.52,498.6 545.68,498.5 548,499 C550.32,499.5 552.18,501.1 554.1,502 C556.02,502.9 558.7,503.28 559.5,504.4 C560.3,505.52 559.5,507.18 558.9,508.7 C558.3,510.22 557.3,512.08 555.9,513.5 C554.5,514.92 552.62,516.38 550.5,517.2 C548.38,518.02 545.63,518.52 543.2,518.4 C540.77,518.28 537.82,517.42 535.9,516.5 C533.98,515.58 532.72,514.1 531.7,512.9 C530.68,511.7 530.12,510.52 529.8,509.3 C529.48,508.08 529.08,506.92 529.8,505.6Z" fill="#FFA317" stroke="#1380C6" stroke-width="0.7" stroke-linejoin="round"/>
<path d="M528.6,485 C529.22,483.48 531.48,482 532.9,480.8 C534.32,479.6 535.38,478.3 537.1,477.8 C538.82,477.3 541.68,478.02 543.2,477.8 C544.72,477.58 544.78,476.4 546.2,476.5 C547.62,476.6 550.48,477.48 551.7,478.4 C552.92,479.32 553,480.28 553.5,482 C554,483.72 555,486.78 554.7,488.7 C554.4,490.62 552.62,491.98 551.7,493.5 C550.78,495.02 550.42,496.98 549.2,497.8 C547.98,498.62 545.9,498.3 544.4,498.4 C542.9,498.5 541.72,498.2 540.2,498.4 C538.68,498.6 536.32,500.02 535.3,499.6 C534.28,499.18 534.8,496.92 534.1,495.9 C533.4,494.88 531.92,494.5 531.1,493.5 C530.28,492.5 529.62,491.32 529.2,489.9 C528.78,488.48 527.98,486.52 528.6,485Z" fill="#FFA317" stroke="#1380C6" stroke-width="0.6" stroke-linejoin="round"/>
<path d="M534.1,469.9 C534.6,468.68 535.88,466.97 537.1,466.2 C538.32,465.43 540.08,465.08 541.4,465.3 C542.72,465.52 544.3,466.43 545,467.5 C545.7,468.57 545.8,470.3 545.6,471.7 C545.4,473.1 544.5,474.88 543.8,475.9 C543.1,476.92 542.52,477.7 541.4,477.8 C540.28,477.9 538.32,477.22 537.1,476.5 C535.88,475.78 534.6,474.6 534.1,473.5 C533.6,472.4 533.6,471.12 534.1,469.9Z" fill="#FFA317" stroke="#1380C6" stroke-width="0.6" stroke-linejoin="round"/>
<path d="M112.7,595.8 C113.13,594.78 113.83,593.37 115,592.5 C116.17,591.63 118.22,591.22 119.7,590.6 C121.18,589.98 122.58,588.8 123.9,588.8 C125.22,588.8 126.2,589.75 127.6,590.6 C129,591.45 130.9,592.97 132.3,593.9 C133.7,594.83 135.27,595.27 136,596.2 C136.73,597.13 136.85,598.48 136.7,599.5 C136.55,600.52 136.15,601.37 135.1,602.3 C134.05,603.23 131.8,604.55 130.4,605.1 C129,605.65 128.1,605.75 126.7,605.6 C125.3,605.45 123.72,604.52 122,604.2 C120.28,603.88 117.88,604.17 116.4,603.7 C114.92,603.23 113.77,602.25 113.1,601.4 C112.43,600.55 112.47,599.53 112.4,598.6 C112.33,597.67 112.27,596.82 112.7,595.8Z" fill="#F8766D"/>
<circle cx="68.99" cy="604.77" r="1.7" fill="#FF61C3"/>
<circle cx="35.88" cy="620.34" r="1.6" fill="#619CFF"/>
<path d="M70,620.3 C70.48,619.68 71.72,619.2 72.9,619.3 C74.08,619.4 76.32,620.38 77.1,620.9 C77.88,621.42 77.78,621.88 77.6,622.4 C77.42,622.92 76.88,623.68 76,624 C75.12,624.32 73.3,624.47 72.3,624.3 C71.3,624.13 70.38,623.67 70,623 C69.62,622.33 69.52,620.92 70,620.3Z" fill="#00B9E3"/>
<path d="M60.3,649.2 C60.7,647.93 61.27,646.32 62.4,645.8 C63.53,645.28 65.45,645.62 67.1,646.1 C68.75,646.58 70.73,647.65 72.3,648.7 C73.87,649.75 75.7,650.82 76.5,652.4 C77.3,653.98 77.53,656.8 77.1,658.2 C76.67,659.6 75.13,660.07 73.9,660.8 C72.67,661.53 71.1,662.68 69.7,662.6 C68.3,662.52 66.98,661.13 65.5,660.3 C64.02,659.47 61.72,658.75 60.8,657.6 C59.88,656.45 60.08,654.8 60,653.4 C59.92,652 59.9,650.47 60.3,649.2Z" fill="#D39200"/>
<path d="M135.1,630.9 C136.08,630.02 138.43,629.02 140.3,628.9 C142.17,628.78 144.22,629.53 146.3,630.2 C148.38,630.87 151.55,631.92 152.8,632.9 C154.05,633.88 153.9,634.57 153.8,636.1 C153.7,637.63 152.25,640.45 152.2,642.1 C152.15,643.75 152.85,644.58 153.5,646 C154.15,647.42 155.72,649.07 156.1,650.6 C156.48,652.13 156.57,654.32 155.8,655.2 C155.03,656.08 152.77,656.02 151.5,655.9 C150.23,655.78 149.62,654.83 148.2,654.5 C146.78,654.17 144.63,654.12 143,653.9 C141.37,653.68 139.07,654.18 138.4,653.2 C137.73,652.22 139.12,649.97 139,648 C138.88,646.03 138.4,643.15 137.7,641.4 C137,639.65 135.35,638.7 134.8,637.5 C134.25,636.3 134.35,635.3 134.4,634.2 C134.45,633.1 134.12,631.78 135.1,630.9Z" fill="#00BA38"/>
<path d="M121.3,663.7 C122,662.72 123.57,661.48 125.2,660.5 C126.83,659.52 129.02,658.8 131.1,657.8 C133.18,656.8 135.5,655.15 137.7,654.5 C139.9,653.85 142.33,653.78 144.3,653.9 C146.27,654.02 148.3,654.33 149.5,655.2 C150.7,656.07 151.38,657.78 151.5,659.1 C151.62,660.42 151.4,661.88 150.2,663.1 C149,664.32 145.62,665.42 144.3,666.4 C142.98,667.38 143.18,668.13 142.3,669 C141.42,669.87 140.63,670.62 139,671.6 C137.37,672.58 134.58,674.35 132.5,674.9 C130.42,675.45 128.27,675.67 126.5,674.9 C124.73,674.13 122.82,671.72 121.9,670.3 C120.98,668.88 121.1,667.5 121,666.4 C120.9,665.3 120.6,664.68 121.3,663.7Z" fill="#00C19F"/>
<path d="M143,667 C143.87,665.8 146.78,665.38 148.2,664.4 C149.62,663.42 150.83,660.33 151.5,661.1 C152.17,661.87 152.2,666.58 152.2,669 C152.2,671.42 151.95,673.73 151.5,675.6 C151.05,677.47 150.7,679.88 149.5,680.2 C148.3,680.52 145.6,678.38 144.3,677.5 C143,676.62 141.92,675.88 141.7,674.9 C141.48,673.92 142.78,672.92 143,671.6 C143.22,670.28 142.13,668.2 143,667Z" fill="#DB72FB"/>
<circle cx="141.5" cy="650.5" r="1.1" fill="#00C19F"/>
<circle cx="148.5" cy="652" r="1" fill="#00C19F"/>
<ellipse cx="70.77" cy="697.99" rx="5" ry="2.7" fill="#93AA00"/>
<path d="M189.1,596.1 C189.3,595.23 190.73,594.38 192,593.8 C193.27,593.22 194.47,592.6 196.7,592.6 C198.93,592.6 202.97,593.52 205.4,593.8 C207.83,594.08 209.73,593.72 211.3,594.3 C212.87,594.88 214.07,596.13 214.8,597.3 C215.53,598.47 215.8,599.95 215.7,601.3 C215.6,602.65 215.23,604.32 214.2,605.4 C213.17,606.48 211.15,607.3 209.5,607.8 C207.85,608.3 205.95,608.7 204.3,608.4 C202.65,608.1 201.07,606.98 199.6,606 C198.13,605.02 196.97,603.67 195.5,602.5 C194.03,601.33 191.87,600.07 190.8,599 C189.73,597.93 188.9,596.97 189.1,596.1Z" fill="#F8766D"/>
<circle cx="250.7" cy="590.38" r="1.7" fill="#FF61C3"/>
<ellipse cx="256.22" cy="612.46" rx="4.4" ry="2.6" fill="#00B9E3"/>
<circle cx="234.54" cy="624.28" r="1.6" fill="#619CFF"/>
<ellipse cx="244.39" cy="636.3" rx="5.2" ry="2.6" fill="#93AA00"/>
<path d="M271.6,654 C271.97,652.97 274.68,651.92 276,650.9 C277.32,649.88 278.05,648.48 279.5,647.9 C280.95,647.32 283.25,647.12 284.7,647.4 C286.15,647.68 287.18,648.78 288.2,649.6 C289.22,650.42 290.37,651.27 290.8,652.3 C291.23,653.33 291.3,654.57 290.8,655.8 C290.3,657.03 289.03,658.47 287.8,659.7 C286.57,660.93 284.87,662.47 283.4,663.2 C281.93,663.93 280.23,664.32 279,664.1 C277.77,663.88 276.87,663.07 276,661.9 C275.13,660.73 274.53,658.42 273.8,657.1 C273.07,655.78 271.23,655.03 271.6,654Z" fill="#D39200"/>
<path d="M169.5,664.9 C169.6,663.53 170.52,661.87 171.3,660.2 C172.08,658.53 172.85,656.47 174.2,654.9 C175.55,653.33 177.55,651.57 179.4,650.8 C181.25,650.03 183.35,650.2 185.3,650.3 C187.25,650.4 189.25,650.53 191.1,651.4 C192.95,652.27 195.18,653.85 196.4,655.5 C197.62,657.15 198.4,659.65 198.4,661.3 C198.4,662.95 197.23,664.32 196.4,665.4 C195.57,666.48 193.4,666.43 193.4,667.8 C193.4,669.17 195.22,672.05 196.4,673.6 C197.58,675.15 199.92,675.63 200.5,677.1 C201.08,678.57 200.4,680.75 199.9,682.4 C199.4,684.05 198.58,685.83 197.5,687 C196.42,688.17 193.58,688.42 193.4,689.4 C193.22,690.38 196,691.63 196.4,692.9 C196.8,694.17 196.58,695.73 195.8,697 C195.02,698.27 193.17,700.02 191.7,700.5 C190.23,700.98 188.37,700.58 187,699.9 C185.63,699.22 184.27,697.57 183.5,696.4 C182.73,695.23 182.3,693.97 182.4,692.9 C182.5,691.83 184.3,690.68 184.1,690 C183.9,689.32 182.27,689.58 181.2,688.8 C180.13,688.02 178.38,686.57 177.7,685.3 C177.02,684.03 177.78,682.37 177.1,681.2 C176.42,680.03 173.9,679.37 173.6,678.3 C173.3,677.23 174.52,675.87 175.3,674.8 C176.08,673.73 178.38,673.07 178.3,671.9 C178.22,670.73 176.07,668.38 174.8,667.8 C173.53,667.22 171.58,668.88 170.7,668.4 C169.82,667.92 169.4,666.27 169.5,664.9Z" fill="#00C19F"/>
<path d="M184.1,692.9 C184.68,692.02 186.23,691.4 187.6,691.1 C188.97,690.8 190.93,690.72 192.3,691.1 C193.67,691.48 195.32,692.42 195.8,693.4 C196.28,694.38 195.88,695.92 195.2,697 C194.52,698.08 192.97,699.52 191.7,699.9 C190.43,700.28 188.87,699.88 187.6,699.3 C186.33,698.72 184.68,697.47 184.1,696.4 C183.52,695.33 183.52,693.78 184.1,692.9Z" fill="#DB72FB" stroke="#DB72FB" stroke-width="1.0" stroke-linejoin="round"/>
<path d="M170.1,664.3 C170.1,663.23 171.02,661.17 171.8,659.6 C172.58,658.03 173.48,656.28 174.8,654.9 C176.12,653.52 177.95,651.98 179.7,651.3 C181.45,650.62 183.45,650.68 185.3,650.8 C187.15,650.92 189.05,651.17 190.8,652 C192.55,652.83 194.63,654.25 195.8,655.8 C196.97,657.35 197.8,659.7 197.8,661.3 C197.8,662.9 196.82,664.42 195.8,665.4 C194.78,666.38 193.45,666.7 191.7,667.2 C189.95,667.7 187.15,668.12 185.3,668.4 C183.45,668.68 182.17,669 180.6,668.9 C179.03,668.8 177.37,668.28 175.9,667.8 C174.43,667.32 172.77,666.58 171.8,666 C170.83,665.42 170.1,665.37 170.1,664.3Z" fill="#00BA38" stroke="#00BA38" stroke-width="1.0" stroke-linejoin="round"/>
<circle cx="334.84" cy="594.72" r="1.8" fill="#619CFF"/>
<ellipse cx="359.67" cy="591.57" rx="3.8" ry="2.6" fill="#93AA00" transform="rotate(-30 359.67 591.57)"/>
<path d="M373.5,612.3 C374.02,611.28 375.25,609.68 377,608.8 C378.75,607.92 382.1,606.72 384,607 C385.9,607.28 387.52,609.33 388.4,610.5 C389.28,611.67 389.88,612.83 389.3,614 C388.72,615.17 386.3,616.48 384.9,617.5 C383.5,618.52 382.22,620.25 380.9,620.1 C379.58,619.95 378.17,617.47 377,616.6 C375.83,615.73 374.48,615.62 373.9,614.9 C373.32,614.18 372.98,613.32 373.5,612.3Z" fill="#D39200"/>
<path d="M406.8,634.5 C407.22,632.92 408.63,631.33 410,630.5 C411.37,629.67 413.33,629.5 415,629.5 C416.67,629.5 418.42,630.25 420,630.5 C421.58,630.75 423.5,630.33 424.5,631 C425.5,631.67 426.25,633.17 426,634.5 C425.75,635.83 424.42,637.67 423,639 C421.58,640.33 419.33,641.83 417.5,642.5 C415.67,643.17 413.67,643.42 412,643 C410.33,642.58 408.37,641.42 407.5,640 C406.63,638.58 406.38,636.08 406.8,634.5Z" fill="#F8766D"/>
<circle cx="304.88" cy="657.98" r="1.3" fill="#FF61C3"/>
<ellipse cx="312.18" cy="672.57" rx="2.4" ry="3.4" fill="#00B9E3"/>
<path d="M362.1,666.4 C362.68,665.25 363.57,664.58 365,664.1 C366.43,663.62 369.17,663.68 370.7,663.5 C372.23,663.32 373.13,662.23 374.2,663 C375.27,663.77 376.38,666.57 377.1,668.1 C377.82,669.63 378.42,670.75 378.5,672.2 C378.58,673.65 378.22,675.47 377.6,676.8 C376.98,678.13 375.57,678.87 374.8,680.2 C374.03,681.53 373.97,684.12 373,684.8 C372.03,685.48 370.43,684.3 369,684.3 C367.57,684.3 365.55,685.48 364.4,684.8 C363.25,684.12 362.82,681.82 362.1,680.2 C361.38,678.58 360.2,676.63 360.1,675.1 C360,673.57 361.17,672.45 361.5,671 C361.83,669.55 361.52,667.55 362.1,666.4Z" fill="#00C19F" stroke="#00C19F" stroke-width="0.8" stroke-linejoin="round"/>
<path d="M355.2,686 C355.72,685.03 357.27,684.28 358.6,683.7 C359.93,683.12 361.75,682.5 363.2,682.5 C364.65,682.5 365.85,683.22 367.3,683.7 C368.75,684.18 370.57,684.73 371.9,685.4 C373.23,686.07 374.63,686.63 375.3,687.7 C375.97,688.77 375.98,690.35 375.9,691.8 C375.82,693.25 375.67,695.07 374.8,696.4 C373.93,697.73 372.53,699.13 370.7,699.8 C368.87,700.47 365.82,700.78 363.8,700.4 C361.78,700.02 359.75,698.65 358.6,697.5 C357.45,696.35 357.42,694.83 356.9,693.5 C356.38,692.17 355.78,690.75 355.5,689.5 C355.22,688.25 354.68,686.97 355.2,686Z" fill="#00BA38" stroke="#00BA38" stroke-width="0.6" stroke-linejoin="round"/>
<path d="M366.7,655.5 C367.18,654.5 368.13,653.43 369,652.9 C369.87,652.37 370.93,652.07 371.9,652.3 C372.87,652.53 374.13,653.28 374.8,654.3 C375.47,655.32 376,657.15 375.9,658.4 C375.8,659.65 375.07,661.13 374.2,661.8 C373.33,662.47 371.85,662.4 370.7,662.4 C369.55,662.4 368.07,662.38 367.3,661.8 C366.53,661.22 366.2,659.95 366.1,658.9 C366,657.85 366.22,656.5 366.7,655.5Z" fill="#DB72FB" stroke="#DB72FB" stroke-width="0.5" stroke-linejoin="round"/>
<ellipse cx="443.82" cy="632.95" rx="5.6" ry="2" fill="#93AA00" transform="rotate(8 443.82 632.95)"/>
<path d="M471.3,635.9 C471.52,634.8 472.22,633.33 473.1,632.9 C473.98,632.47 475.28,632.93 476.6,633.3 C477.92,633.67 479.33,634.67 481,635.1 C482.67,635.53 485,635.4 486.6,635.9 C488.2,636.4 489.87,637.15 490.6,638.1 C491.33,639.05 491.22,640.43 491,641.6 C490.78,642.77 489.52,643.93 489.3,645.1 C489.08,646.27 490,647.57 489.7,648.6 C489.4,649.63 488.6,650.7 487.5,651.3 C486.4,651.9 484.7,652.28 483.1,652.2 C481.5,652.12 479.2,651.62 477.9,650.8 C476.6,649.98 475.82,648.6 475.3,647.3 C474.78,646 475.38,644.3 474.8,643 C474.22,641.7 472.38,640.68 471.8,639.5 C471.22,638.32 471.08,637 471.3,635.9Z" fill="#D39200"/>
<path d="M480.5,639.5 C480.9,639.13 482.37,638.87 483.1,639 C483.83,639.13 484.75,639.72 484.9,640.3 C485.05,640.88 484.52,642.13 484,642.5 C483.48,642.87 482.35,642.72 481.8,642.5 C481.25,642.28 480.92,641.7 480.7,641.2 C480.48,640.7 480.1,639.87 480.5,639.5Z" fill="#ffffff"/>
<ellipse cx="467.47" cy="666.65" rx="3" ry="2.8" fill="#00B9E3"/>
<circle cx="494.28" cy="672.17" r="1.6" fill="#619CFF"/>
<circle cx="478.71" cy="694.05" r="1.2" fill="#00C19F"/>
<path d="M507.2,685.5 C507.57,684.55 508.45,683.33 509.4,682.9 C510.35,682.47 511.58,682.47 512.9,682.9 C514.22,683.33 515.98,684.85 517.3,685.5 C518.62,686.15 519.72,686.65 520.8,686.8 C521.88,686.95 522.57,686.25 523.8,686.4 C525.03,686.55 527.03,686.97 528.2,687.7 C529.37,688.43 530.28,689.57 530.8,690.8 C531.32,692.03 531.58,693.8 531.3,695.1 C531.02,696.4 530.42,697.72 529.1,698.6 C527.78,699.48 525.23,700.25 523.4,700.4 C521.57,700.55 519.85,700.02 518.1,699.5 C516.35,698.98 514.43,698.47 512.9,697.3 C511.37,696.13 509.85,693.95 508.9,692.5 C507.95,691.05 507.48,689.77 507.2,688.6 C506.92,687.43 506.83,686.45 507.2,685.5Z" fill="#F8766D"/>
<path d="M535.9,597.1 C536.42,596.48 538.78,596.7 540.2,596.5 C541.62,596.3 543.8,595.28 544.4,595.9 C545,596.52 543,599.48 543.8,600.2 C544.6,600.92 547.68,599.8 549.2,600.2 C550.72,600.6 552.18,601.6 552.9,602.6 C553.62,603.6 553.2,604.78 553.5,606.2 C553.8,607.62 554.7,609.68 554.7,611.1 C554.7,612.52 554.2,613.8 553.5,614.7 C552.8,615.6 551.22,615.38 550.5,616.5 C549.78,617.62 549.92,620.18 549.2,621.4 C548.48,622.62 548.22,623.3 546.2,623.8 C544.18,624.3 539.02,624.7 537.1,624.4 C535.18,624.1 535.2,622.92 534.7,622 C534.2,621.08 534.7,619.82 534.1,618.9 C533.5,617.98 532.02,617.5 531.1,616.5 C530.18,615.5 529.07,614.32 528.6,612.9 C528.13,611.48 527.68,609.32 528.3,608 C528.92,606.68 530.83,606.3 532.3,605 C533.77,603.7 536.5,601.52 537.1,600.2 C537.7,598.88 535.38,597.72 535.9,597.1Z" fill="#00C19F" stroke="#00C19F" stroke-width="0.8" stroke-linejoin="round"/>
<path d="M529.8,628.6 C530.57,627.38 532.37,625.9 534.1,625 C535.83,624.1 537.68,623.5 540.2,623.2 C542.72,622.9 546.88,622.9 549.2,623.2 C551.52,623.5 552.38,624.2 554.1,625 C555.82,625.8 558.55,627.08 559.5,628 C560.45,628.92 560.4,629.08 559.8,630.5 C559.2,631.92 557.45,634.88 555.9,636.5 C554.35,638.12 552.62,639.33 550.5,640.2 C548.38,641.07 545.63,641.77 543.2,641.7 C540.77,641.63 537.82,640.77 535.9,639.8 C533.98,638.83 532.77,637.15 531.7,635.9 C530.63,634.65 529.82,633.52 529.5,632.3 C529.18,631.08 529.03,629.82 529.8,628.6Z" fill="#00BA38" stroke="#00BA38" stroke-width="0.6" stroke-linejoin="round"/>
<path d="M534.1,592.9 C534.5,591.68 535.38,589.97 536.5,589.2 C537.62,588.43 539.48,588.2 540.8,588.3 C542.12,588.4 543.6,588.93 544.4,589.8 C545.2,590.67 545.6,592.38 545.6,593.5 C545.6,594.62 545.2,595.8 544.4,596.5 C543.6,597.2 542.12,597.45 540.8,597.7 C539.48,597.95 537.62,598.2 536.5,598 C535.38,597.8 534.5,597.35 534.1,596.5 C533.7,595.65 533.7,594.12 534.1,592.9Z" fill="#DB72FB" stroke="#DB72FB" stroke-width="0.5" stroke-linejoin="round"/>
<rect x="30.5" y="461.5" width="130" height="119" fill="none" stroke="#151515" stroke-width="1.25"/>
<rect x="30.5" y="584.5" width="130" height="120" fill="none" stroke="#151515" stroke-width="1.25"/>
<rect x="164.5" y="461.5" width="131" height="119" fill="none" stroke="#151515" stroke-width="1.25"/>
<rect x="164.5" y="584.5" width="131" height="120" fill="none" stroke="#151515" stroke-width="1.25"/>
<rect x="299.5" y="461.5" width="131" height="119" fill="none" stroke="#151515" stroke-width="1.25"/>
<rect x="299.5" y="584.5" width="131" height="120" fill="none" stroke="#151515" stroke-width="1.25"/>
<rect x="433.5" y="461.5" width="131" height="119" fill="none" stroke="#151515" stroke-width="1.25"/>
<rect x="433.5" y="584.5" width="131" height="120" fill="none" stroke="#151515" stroke-width="1.25"/>
<text x="95.5" y="454.5" font-size="17.5" text-anchor="middle" fill="#111111" stroke="#111111" stroke-width="0.3" font-weight="normal" >raw</text>
<text x="98.5" y="725" font-size="17.5" text-anchor="middle" fill="#111111" stroke="#111111" stroke-width="0.3" font-weight="normal" >UMAP_1</text>
<text x="230" y="454.5" font-size="17.5" text-anchor="middle" fill="#111111" stroke="#111111" stroke-width="0.3" font-weight="normal" >k=1</text>
<text x="233" y="725" font-size="17.5" text-anchor="middle" fill="#111111" stroke="#111111" stroke-width="0.3" font-weight="normal" >UMAP_1</text>
<text x="365" y="454.5" font-size="17.5" text-anchor="middle" fill="#111111" stroke="#111111" stroke-width="0.3" font-weight="normal" >k=3</text>
<text x="368" y="725" font-size="17.5" text-anchor="middle" fill="#111111" stroke="#111111" stroke-width="0.3" font-weight="normal" >UMAP_1</text>
<text x="499" y="454.5" font-size="17.5" text-anchor="middle" fill="#111111" stroke="#111111" stroke-width="0.3" font-weight="normal" >k=200</text>
<text x="502" y="725" font-size="17.5" text-anchor="middle" fill="#111111" stroke="#111111" stroke-width="0.3" font-weight="normal" >UMAP_1</text>
<text x="20.5" y="521" font-size="17.5" text-anchor="middle" fill="#111111" stroke="#111111" stroke-width="0.3" font-weight="normal" transform="rotate(-90 20.5 521)" >UMAP_2</text>
<text x="20.5" y="644.5" font-size="17.5" text-anchor="middle" fill="#111111" stroke="#111111" stroke-width="0.3" font-weight="normal" transform="rotate(-90 20.5 644.5)" >UMAP_2</text>
<text transform="translate(0.4,457.8) scale(1.0,1)" font-size="22.5" font-weight="bold" fill="#000">E</text>
<ellipse cx="382" cy="613.5" rx="18.4" ry="14.2" fill="none" stroke="#111111" stroke-width="1.3"/>
<ellipse cx="481" cy="642.5" rx="23.9" ry="16" fill="none" stroke="#111111" stroke-width="1.3"/>
<ellipse cx="305.9" cy="657.9" rx="3.9" ry="6.5" fill="none" stroke="#111111" stroke-width="1.3"/>
<ellipse cx="367.5" cy="675" rx="3.9" ry="3.25" fill="none" stroke="#111111" stroke-width="1.3"/>
<ellipse cx="478.1" cy="692.9" rx="13" ry="9.4" fill="none" stroke="#111111" stroke-width="1.3"/>
<line x1="401.2" y1="613.1" x2="464" y2="630.4" stroke="#111111" stroke-width="1.5" stroke-dasharray="6.5 4.6"/>
<line x1="309.8" y1="655.9" x2="465" y2="687.8" stroke="#111111" stroke-width="1.5" stroke-dasharray="6.5 4.6"/>
<line x1="371.5" y1="675.5" x2="465" y2="687.8" stroke="#111111" stroke-width="1.5" stroke-dasharray="6.5 4.6"/>
<line x1="465" y1="630.7" x2="460.79" y2="626.71" stroke="#111111" stroke-width="1.6" stroke-linecap="round"/>
<line x1="465" y1="630.7" x2="459.34" y2="631.96" stroke="#111111" stroke-width="1.6" stroke-linecap="round"/>
<line x1="466" y1="688" x2="461.53" y2="684.3" stroke="#111111" stroke-width="1.6" stroke-linecap="round"/>
<line x1="466" y1="688" x2="460.44" y2="689.64" stroke="#111111" stroke-width="1.6" stroke-linecap="round"/>
<text x="582" y="472.5" font-size="17.5" text-anchor="start" fill="#111111" stroke="#111111" stroke-width="0.3" font-weight="normal" >Batch</text>
<circle cx="587" cy="486.3" r="4.9" fill="#1380C6"/>
<text x="600" y="492.1" font-size="16" text-anchor="start" fill="#111111" stroke="#111111" stroke-width="0.3" font-weight="normal" >10x (v2)</text>
<circle cx="587" cy="505.2" r="4.9" fill="#FFA317"/>
<text x="600" y="511" font-size="16" text-anchor="start" fill="#111111" stroke="#111111" stroke-width="0.3" font-weight="normal" >10x (v3)</text>
<text x="582" y="545" font-size="17.5" text-anchor="start" fill="#111111" stroke="#111111" stroke-width="0.3" font-weight="normal" >Cell Type</text>
<circle cx="587" cy="558.6" r="4.9" fill="#F8766D"/>
<text x="603" y="564.4" font-size="16" text-anchor="start" fill="#111111" stroke="#111111" stroke-width="0.3" font-weight="normal" >B</text>
<circle cx="587" cy="577.63" r="4.9" fill="#D39200"/>
<text x="603" y="583.43" font-size="16" text-anchor="start" fill="#111111" stroke="#111111" stroke-width="0.3" font-weight="normal" >CD14+</text>
<circle cx="587" cy="596.66" r="4.9" fill="#93AA00"/>
<text x="603" y="602.46" font-size="16" text-anchor="start" fill="#111111" stroke="#111111" stroke-width="0.3" font-weight="normal" >CD16+</text>
<circle cx="587" cy="615.69" r="4.9" fill="#00BA38"/>
<text x="603" y="621.49" font-size="16" text-anchor="start" fill="#111111" stroke="#111111" stroke-width="0.3" font-weight="normal" >CD4+ T</text>
<circle cx="587" cy="634.72" r="4.9" fill="#00C19F"/>
<text x="603" y="640.52" font-size="16" text-anchor="start" fill="#111111" stroke="#111111" stroke-width="0.3" font-weight="normal" >Cytotoxic T</text>
<circle cx="587" cy="653.75" r="4.9" fill="#00B9E3"/>
<text x="603" y="659.55" font-size="16" text-anchor="start" fill="#111111" stroke="#111111" stroke-width="0.3" font-weight="normal" >DC</text>
<circle cx="587" cy="672.78" r="4.9" fill="#619CFF"/>
<text x="603" y="678.58" font-size="16" text-anchor="start" fill="#111111" stroke="#111111" stroke-width="0.3" font-weight="normal" >MK</text>
<circle cx="587" cy="691.81" r="4.9" fill="#DB72FB"/>
<text x="603" y="697.61" font-size="16" text-anchor="start" fill="#111111" stroke="#111111" stroke-width="0.3" font-weight="normal" >NK</text>
<circle cx="587" cy="710.84" r="4.9" fill="#FF61C3"/>
<text x="603" y="716.64" font-size="16" text-anchor="start" fill="#111111" stroke="#111111" stroke-width="0.3" font-weight="normal" >pDC</text>
</svg></body></html>
